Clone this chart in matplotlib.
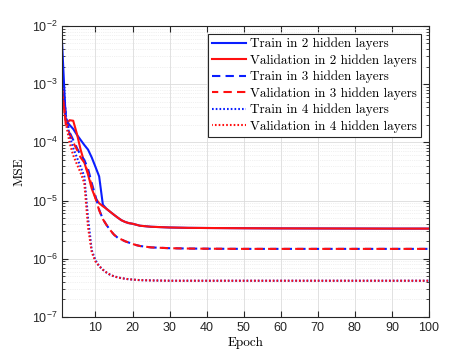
import matplotlib
matplotlib.use("Agg")
import matplotlib.pyplot as plt
from matplotlib.ticker import LogLocator, NullFormatter


epochs = [1, 2, 3, 4, 5, 6, 7, 8, 9, 10, 11, 12, 13, 14, 15, 16, 17, 18, 19, 20,
          21, 22, 25, 30, 35, 40, 50, 60, 70, 80, 90, 100]

train2 = [5.0e-3, 2.4e-4, 2.0e-4, 1.7e-4, 1.35e-4, 1.1e-4, 9.0e-5, 7.5e-5, 5.5e-5, 3.8e-5,
          2.6e-5, 8.5e-6, 7.2e-6, 6.4e-6, 5.7e-6, 5.1e-6, 4.6e-6, 4.3e-6, 4.1e-6, 4.0e-6,
          3.85e-6, 3.7e-6, 3.55e-6, 3.45e-6, 3.4e-6, 3.38e-6, 3.35e-6, 3.33e-6, 3.32e-6, 3.31e-6,
          3.3e-6, 3.3e-6]
val2 = [9.0e-4, 2.0e-4, 2.4e-4, 2.35e-4, 1.4e-4, 7.5e-5, 4.5e-5, 2.8e-5, 1.6e-5, 1.1e-5,
        9.0e-6, 8.0e-6, 7.2e-6, 6.4e-6, 5.7e-6, 5.1e-6, 4.6e-6, 4.3e-6, 4.1e-6, 4.0e-6,
        3.85e-6, 3.7e-6, 3.55e-6, 3.45e-6, 3.4e-6, 3.38e-6, 3.35e-6, 3.33e-6, 3.32e-6, 3.31e-6,
        3.3e-6, 3.3e-6]
train3 = [1.2e-3, 3.0e-4, 1.5e-4, 1.1e-4, 8.0e-5, 6.0e-5, 5.0e-5, 3.5e-5, 2.0e-5, 1.2e-5,
          7.0e-6, 4.8e-6, 3.8e-6, 3.1e-6, 2.6e-6, 2.3e-6, 2.15e-6, 2.0e-6, 1.9e-6, 1.8e-6,
          1.72e-6, 1.66e-6, 1.57e-6, 1.52e-6, 1.5e-6, 1.49e-6, 1.48e-6, 1.48e-6, 1.48e-6, 1.48e-6,
          1.48e-6, 1.48e-6]
val3 = [7.0e-4, 2.6e-4, 1.4e-4, 1.0e-4, 7.5e-5, 5.5e-5, 4.5e-5, 3.0e-5, 1.8e-5, 1.1e-5,
        6.8e-6, 4.8e-6, 3.8e-6, 3.1e-6, 2.6e-6, 2.3e-6, 2.15e-6, 2.0e-6, 1.9e-6, 1.8e-6,
        1.72e-6, 1.66e-6, 1.57e-6, 1.52e-6, 1.5e-6, 1.49e-6, 1.48e-6, 1.48e-6, 1.48e-6, 1.48e-6,
        1.48e-6, 1.48e-6]
train4 = [1.5e-3, 3.0e-4, 1.3e-4, 8.0e-5, 5.5e-5, 3.8e-5, 2.6e-5, 5.0e-6, 1.4e-6, 9.5e-7,
          7.5e-7, 6.5e-7, 5.8e-7, 5.3e-7, 5.0e-7, 4.8e-7, 4.65e-7, 4.55e-7, 4.45e-7, 4.4e-7,
          4.35e-7, 4.3e-7, 4.25e-7, 4.2e-7, 4.2e-7, 4.2e-7, 4.2e-7, 4.2e-7, 4.2e-7, 4.2e-7,
          4.2e-7, 4.2e-7]
val4 = [8.0e-4, 2.2e-4, 1.0e-4, 6.0e-5, 4.2e-5, 3.0e-5, 2.0e-5, 3.5e-6, 1.3e-6, 9.0e-7,
        7.5e-7, 6.5e-7, 5.8e-7, 5.3e-7, 5.0e-7, 4.8e-7, 4.65e-7, 4.55e-7, 4.45e-7, 4.4e-7,
        4.35e-7, 4.3e-7, 4.25e-7, 4.2e-7, 4.2e-7, 4.2e-7, 4.2e-7, 4.2e-7, 4.2e-7, 4.2e-7,
        4.2e-7, 4.2e-7]

labels = ["Train in 2 hidden layers", "Validation in 2 hidden layers",
          "Train in 3 hidden layers", "Validation in 3 hidden layers",
          "Train in 4 hidden layers", "Validation in 4 hidden layers"]

plt.rcParams['font.family'] = ['Liberation Sans', 'DejaVu Sans']
plt.rcParams['mathtext.fontset'] = 'custom'
plt.rcParams['mathtext.rm'] = 'Liberation Sans'

fig = plt.figure(figsize=(4.74, 3.55), dpi=100)
ax = fig.add_axes([0.131, 0.107, 0.774, 0.820])

blue = '#0a1eff'
red = '#ff1010'
lw = 1.5
dash_b = (0, (4, 2.5))
dash_r = (1.0, (4, 2.5))
dot_b = (0, (0.8, 1.0))
dot_r = (0.4, (0.8, 1.0))
ax.plot(epochs, train2, color=blue, lw=lw, ls='-', label=labels[0])
ax.plot(epochs, val2, color=red, lw=lw, ls='-', label=labels[1])
ax.plot(epochs, train3, color=blue, lw=lw, ls=dash_b, label=labels[2])
ax.plot(epochs, val3, color=red, lw=lw, ls=dash_r, label=labels[3])
ax.plot(epochs, train4, color=blue, lw=lw, ls=dot_b, label=labels[4])
ax.plot(epochs, val4, color=red, lw=lw, ls=dot_r, label=labels[5])

ax.set_yscale('log')
ax.set_xlim(1, 100)
ax.set_ylim(1e-7, 1e-2)
ax.set_xticks(range(10, 101, 10))
ax.yaxis.set_major_locator(LogLocator(base=10, numticks=10))
ax.yaxis.set_minor_locator(LogLocator(base=10, subs=range(2, 10), numticks=20))
ax.yaxis.set_minor_formatter(NullFormatter())

ax.grid(True, which='major', color='#dcdcdc', lw=0.6)
ax.grid(True, which='minor', axis='y', color='#e3e3e3', lw=0.5, ls=':')
ax.set_axisbelow(True)

for s in ax.spines.values():
    s.set_color('#262626')
    s.set_linewidth(0.8)
ax.tick_params(which='both', direction='in', top=True, right=True,
               colors='#262626', labelsize=9)
ax.tick_params(which='major', length=4)
ax.tick_params(which='minor', length=2)

ax.set_xlabel('Epoch', family='cmr10', fontsize=9.5, labelpad=2)
ax.set_ylabel('MSE', family='cmr10', fontsize=9.5, labelpad=4)

leg = ax.legend(loc='upper right', prop={'family': 'cmr10', 'size': 9.5},
                handlelength=2.6, handletextpad=0.3, labelspacing=0.29,
                borderaxespad=0.6, borderpad=0.3, fancybox=False, framealpha=1)
leg.get_frame().set_edgecolor('#262626')
leg.get_frame().set_linewidth(0.8)

fig.savefig('out.png', dpi=100)
